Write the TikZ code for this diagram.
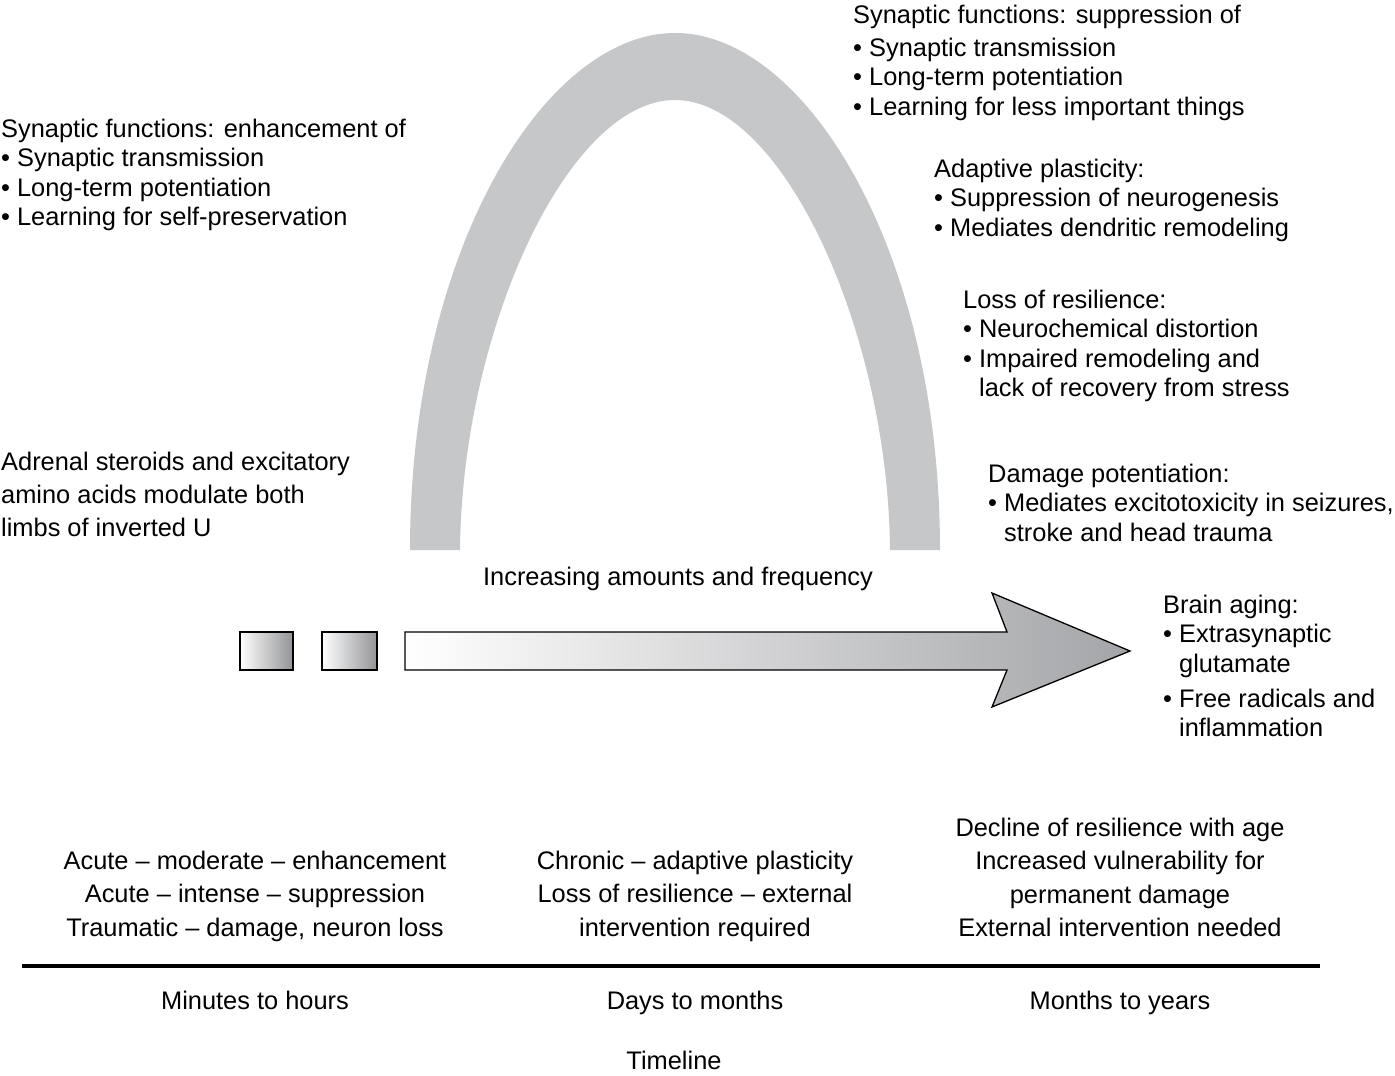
\documentclass[tikz,border=0pt]{standalone}
\usepackage{fontspec}
\setmainfont{Liberation Sans}
\definecolor{archgray}{HTML}{C6C7C9}
\definecolor{arrowgray}{HTML}{A4A5A8}
\definecolor{boxgray}{HTML}{929396}
\newcommand\firstline{\rule{0pt}{23pt}}
\newcommand\ind{\phantom{• }}
\begin{document}
\begin{tikzpicture}[x=1pt,y=-1pt,
 txt/.style={font=\fontsize{25.4}{29.5}\selectfont, inner sep=0pt, anchor=north west, align=left},
 wtxt/.style={font=\fontsize{25.4}{33.2}\selectfont, inner sep=0pt, anchor=north west, align=left},
 ctxt/.style={font=\fontsize{25.4}{33.5}\selectfont, inner sep=0pt, anchor=north, align=center},
 gbox/.style={draw=black, line width=1.3pt, left color=white, right color=boxgray},
 garrow/.style={draw=black, line width=1.3pt, left color=white, right color=arrowgray},
]
\useasboundingbox (0,0) rectangle (1395,1076);

% inverted U
\fill[archgray] (410,550) .. controls (410,250) and (545,33) .. (675,33)
  .. controls (805,33) and (940,250) .. (940,550) -- (890,550)
  .. controls (888,330) and (782,100) .. (675,100)
  .. controls (568,100) and (462,330) .. (460,550) -- cycle;

% boxes and arrow
\node[gbox, minimum width=53pt, minimum height=38pt, inner sep=0pt] (b1) at (266.5,651) {};
\node[gbox, minimum width=55pt, minimum height=38pt, inner sep=0pt] (b2) at (349.5,651) {};
\draw[garrow] (405,632) -- (1007,632) -- (992,593) -- (1130,651) -- (992,707) -- (1007,670) -- (405,670) -- cycle;

% texts
\node[txt] (enh) at (1,114) {\firstline Synaptic functions: enhancement of\\• Synaptic transmission\\• Long-term potentiation\\• Learning for self-preservation};
\node[txt] (sup) at (853,0) {\firstline Synaptic functions: suppression of\\[3.5pt]• Synaptic transmission\\• Long-term potentiation\\• Learning for less important things};
\node[txt] (adapt) at (934,154) {\firstline Adaptive plasticity:\\• Suppression of neurogenesis\\• Mediates dendritic remodeling};
\node[txt] (loss) at (963,285) {\firstline Loss of resilience:\\• Neurochemical distortion\\• Impaired remodeling and\\\ind lack of recovery from stress};
\node[txt] (dmg) at (988,459) {\firstline Damage potentiation:\\• Mediates excitotoxicity in seizures,\\\ind stroke and head trauma};
\node[txt] (aging) at (1163,590) {\firstline Brain aging:\\• Extrasynaptic\\\ind glutamate\\[5.5pt]• Free radicals and\\\ind inflammation};
\node[wtxt] (adrenal) at (1,447) {\firstline Adrenal steroids and excitatory\\amino acids modulate both\\limbs of inverted U};
\node[ctxt] (incr) at (678,562) {\firstline Increasing amounts and frequency};

\node[ctxt] (c1) at (255,846) {\firstline Acute – moderate – enhancement\\Acute – intense – suppression\\Traumatic – damage, neuron loss};
\node[ctxt] (c2) at (695,846) {\firstline Chronic – adaptive plasticity\\Loss of resilience – external\\intervention required};
\node[ctxt] (c3) at (1120,813) {\firstline Decline of resilience with age\\Increased vulnerability for\\permanent damage\\External intervention needed};

% timeline
\coordinate (tl) at (22,966);
\coordinate (tr) at (1320,966);
\draw[line width=4pt] (tl) -- (tr);
\node[ctxt] (t1) at (255,986) {\firstline Minutes to hours};
\node[ctxt] (t2) at (695,986) {\firstline Days to months};
\node[ctxt] (t3) at (1120,986) {\firstline Months to years};
\node[ctxt] (tline) at (674,1046) {\firstline Timeline};
\end{tikzpicture}
\end{document}
